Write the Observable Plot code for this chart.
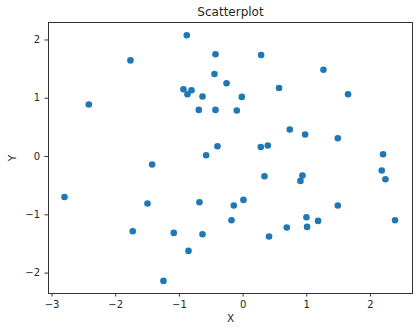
<!DOCTYPE html>
<html>
<head>
<meta charset="utf-8">
<script src="https://cdn.jsdelivr.net/npm/d3@7"></script>
<script src="https://cdn.jsdelivr.net/npm/@observablehq/plot@0.6"></script>
<style>
  html, body { margin: 0; padding: 0; background: white; }
</style>
</head>
<body>
<div id="chart"></div>
<script>
const xs = [-0.884, -1.768, -0.433, -0.449, -0.936, -0.81, -0.873, -0.637, -2.422, -0.695,
            -0.433, -0.402, -0.58, 0.283, -0.26, 1.262, 0.565, -0.02, 1.648, -0.099,
            0.733, 0.974, 1.487, 0.278, 0.388, 2.198, -1.428, -2.804, -1.501, -0.685,
            -1.732, -1.088, -0.637, -0.857, -1.25, 2.177, 2.235, 0.336, 0.932, 0.901,
            0.006, -0.146, -0.182, 1.487, 0.995, 1.177, 2.386, 1.005, 0.686, 0.408];
const ys = [2.08, 1.65, 1.755, 1.417, 1.154, 1.137, 1.069, 1.029, 0.892, 0.80,
            0.80, 0.177, 0.022, 1.743, 1.257, 1.49, 1.177, 1.023, 1.069, 0.789,
            0.463, 0.377, 0.314, 0.165, 0.189, 0.039, -0.137, -0.693, -0.806, -0.784,
            -1.281, -1.31, -1.333, -1.619, -2.134, -0.24, -0.389, -0.338, -0.326, -0.418,
            -0.744, -0.84, -1.093, -0.84, -1.041, -1.104, -1.093, -1.207, -1.218, -1.372];
const xTicks = [-3, -2, -1, 0, 1, 2];
const yTicks = [-2, -1, 0, 1, 2];
const title = "Scatterplot";
const xLabel = "X";
const yLabel = "Y";

const data = xs.map((x, i) => ({x, y: ys[i]}));
const fmt = d3.format("d");

const chart = Plot.plot({
  width: 420,
  height: 329,
  marginLeft: 48,
  marginRight: 8,
  marginTop: 22,
  marginBottom: 36,
  style: {fontFamily: "DejaVu Sans, sans-serif", fontSize: "10px", background: "white", color: "#262626"},
  x: {domain: [-3.055, 2.66]},
  y: {domain: [-2.35, 2.30]},
  marks: [
    Plot.dot(data, {x: "x", y: "y", r: 3.3, fill: "#1f77b4", stroke: "none"}),
    Plot.frame({stroke: "#333", strokeWidth: 1}),
    Plot.axisX({ticks: xTicks, tickFormat: fmt, tickSize: 3.5, tickPadding: 3.5, label: null, stroke: "#333"}),
    Plot.axisY({ticks: yTicks, tickFormat: fmt, tickSize: 3.5, tickPadding: 5, label: null, stroke: "#333"}),
    Plot.text([xLabel], {frameAnchor: "bottom", dy: 25, lineAnchor: "middle", textAnchor: "middle", fontSize: 10.5, fill: "#262626"}),
    Plot.text([yLabel], {frameAnchor: "left", dx: -36, rotate: -90, lineAnchor: "middle", textAnchor: "middle", fontSize: 10.5, fill: "#262626"}),
    Plot.text([title], {frameAnchor: "top", dy: -10, lineAnchor: "middle", textAnchor: "middle", fontSize: 12, fill: "#262626"})
  ]
});
document.getElementById("chart").appendChild(chart);
</script>
</body>
</html>
